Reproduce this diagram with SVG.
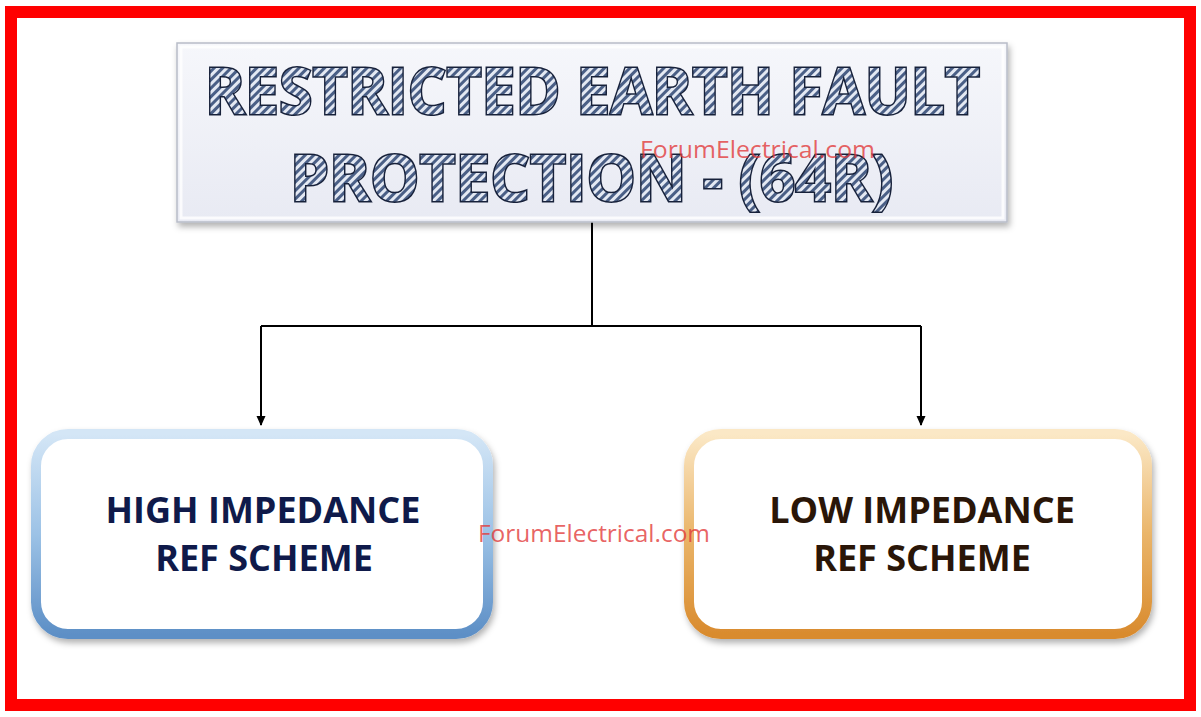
<svg xmlns="http://www.w3.org/2000/svg" width="1201" height="717" viewBox="0 0 1201 717">
<style>
.title{font-family:"Open Sans","Liberation Sans",sans-serif;font-weight:bold;font-size:64px;fill:url(#hatch);stroke:#17213a;stroke-width:3;paint-order:stroke;}
.node{font-family:"Open Sans","Liberation Sans",sans-serif;font-weight:bold;font-size:36px;text-anchor:middle;}
.wm{font-family:"Open Sans","Liberation Sans",sans-serif;font-size:24px;fill:#e23a3a;fill-opacity:0.8;}
.conn{fill:none;stroke:#000;stroke-width:2;}
</style>
<defs>
<pattern id="hatch" patternUnits="userSpaceOnUse" width="6" height="6" patternTransform="rotate(45)">
<rect width="6" height="6" fill="#e4e9f3"/>
<rect width="3" height="6" fill="#4a5f86"/>
</pattern>
<linearGradient id="titleFill" x1="0" y1="0" x2="0" y2="1">
<stop offset="0" stop-color="#f6f7fb"/>
<stop offset="1" stop-color="#e8eaf3"/>
</linearGradient>
<linearGradient id="blueBorder" x1="0" y1="0" x2="0" y2="1">
<stop offset="0" stop-color="#d4e6f6"/>
<stop offset="0.5" stop-color="#9cc2e6"/>
<stop offset="1" stop-color="#5d8fc6"/>
</linearGradient>
<linearGradient id="orangeBorder" x1="0" y1="0" x2="0" y2="1">
<stop offset="0" stop-color="#fbe8c6"/>
<stop offset="0.5" stop-color="#eab56a"/>
<stop offset="1" stop-color="#d98b2e"/>
</linearGradient>
<filter id="shadow" x="-5%" y="-5%" width="115%" height="120%">
<feDropShadow dx="2" dy="4" stdDeviation="3" flood-color="#000" flood-opacity="0.3"/>
</filter>
<marker id="arrow" markerWidth="12" markerHeight="12" refX="9" refY="5" orient="auto" markerUnits="userSpaceOnUse">
<path d="M0,0.5 L10,5 L0,9.5 Z" fill="#000"/>
</marker>
</defs>
<rect width="1201" height="717" fill="#fff"/>
<rect x="11" y="12" width="1179" height="693" fill="none" stroke="#ff0000" stroke-width="12"/>

<g id="connectors">
<path class="conn" d="M592,222 V326"/>
<path class="conn" d="M261,326 H921"/>
<path class="conn" d="M261,326 V425" marker-end="url(#arrow)"/>
<path class="conn" d="M921,326 V425" marker-end="url(#arrow)"/>
</g>

<g id="title">
<rect x="177" y="43" width="830" height="179" fill="url(#titleFill)" stroke="#b8bcc8" stroke-width="1.5" filter="url(#shadow)"/>
<rect x="181" y="47" width="822" height="171" fill="none" stroke="#ffffff" stroke-width="3" opacity="0.8"/>
<text class="title" x="205" y="114" textLength="775" lengthAdjust="spacingAndGlyphs">RESTRICTED EARTH FAULT</text>
<text class="title" x="290" y="201" textLength="603" lengthAdjust="spacingAndGlyphs">PROTECTION - (64R)</text>
</g>

<g id="high">
<rect x="36" y="434" width="452" height="200" rx="32" fill="#fff" stroke="url(#blueBorder)" stroke-width="10" filter="url(#shadow)"/>
<text class="node" x="263" y="523" fill="#0f1a4a">HIGH IMPEDANCE</text>
<text class="node" x="264" y="571" fill="#0f1a4a">REF SCHEME</text>
</g>

<g id="low">
<rect x="689" y="434" width="458" height="200" rx="32" fill="#fff" stroke="url(#orangeBorder)" stroke-width="10" filter="url(#shadow)"/>
<text class="node" x="922" y="523" fill="#2a1608">LOW IMPEDANCE</text>
<text class="node" x="922" y="571" fill="#2a1608">REF SCHEME</text>
</g>

<text class="wm" x="640" y="158" textLength="235" lengthAdjust="spacingAndGlyphs">ForumElectrical.com</text>
<text class="wm" x="478" y="542" textLength="232" lengthAdjust="spacingAndGlyphs">ForumElectrical.com</text>
</svg>
